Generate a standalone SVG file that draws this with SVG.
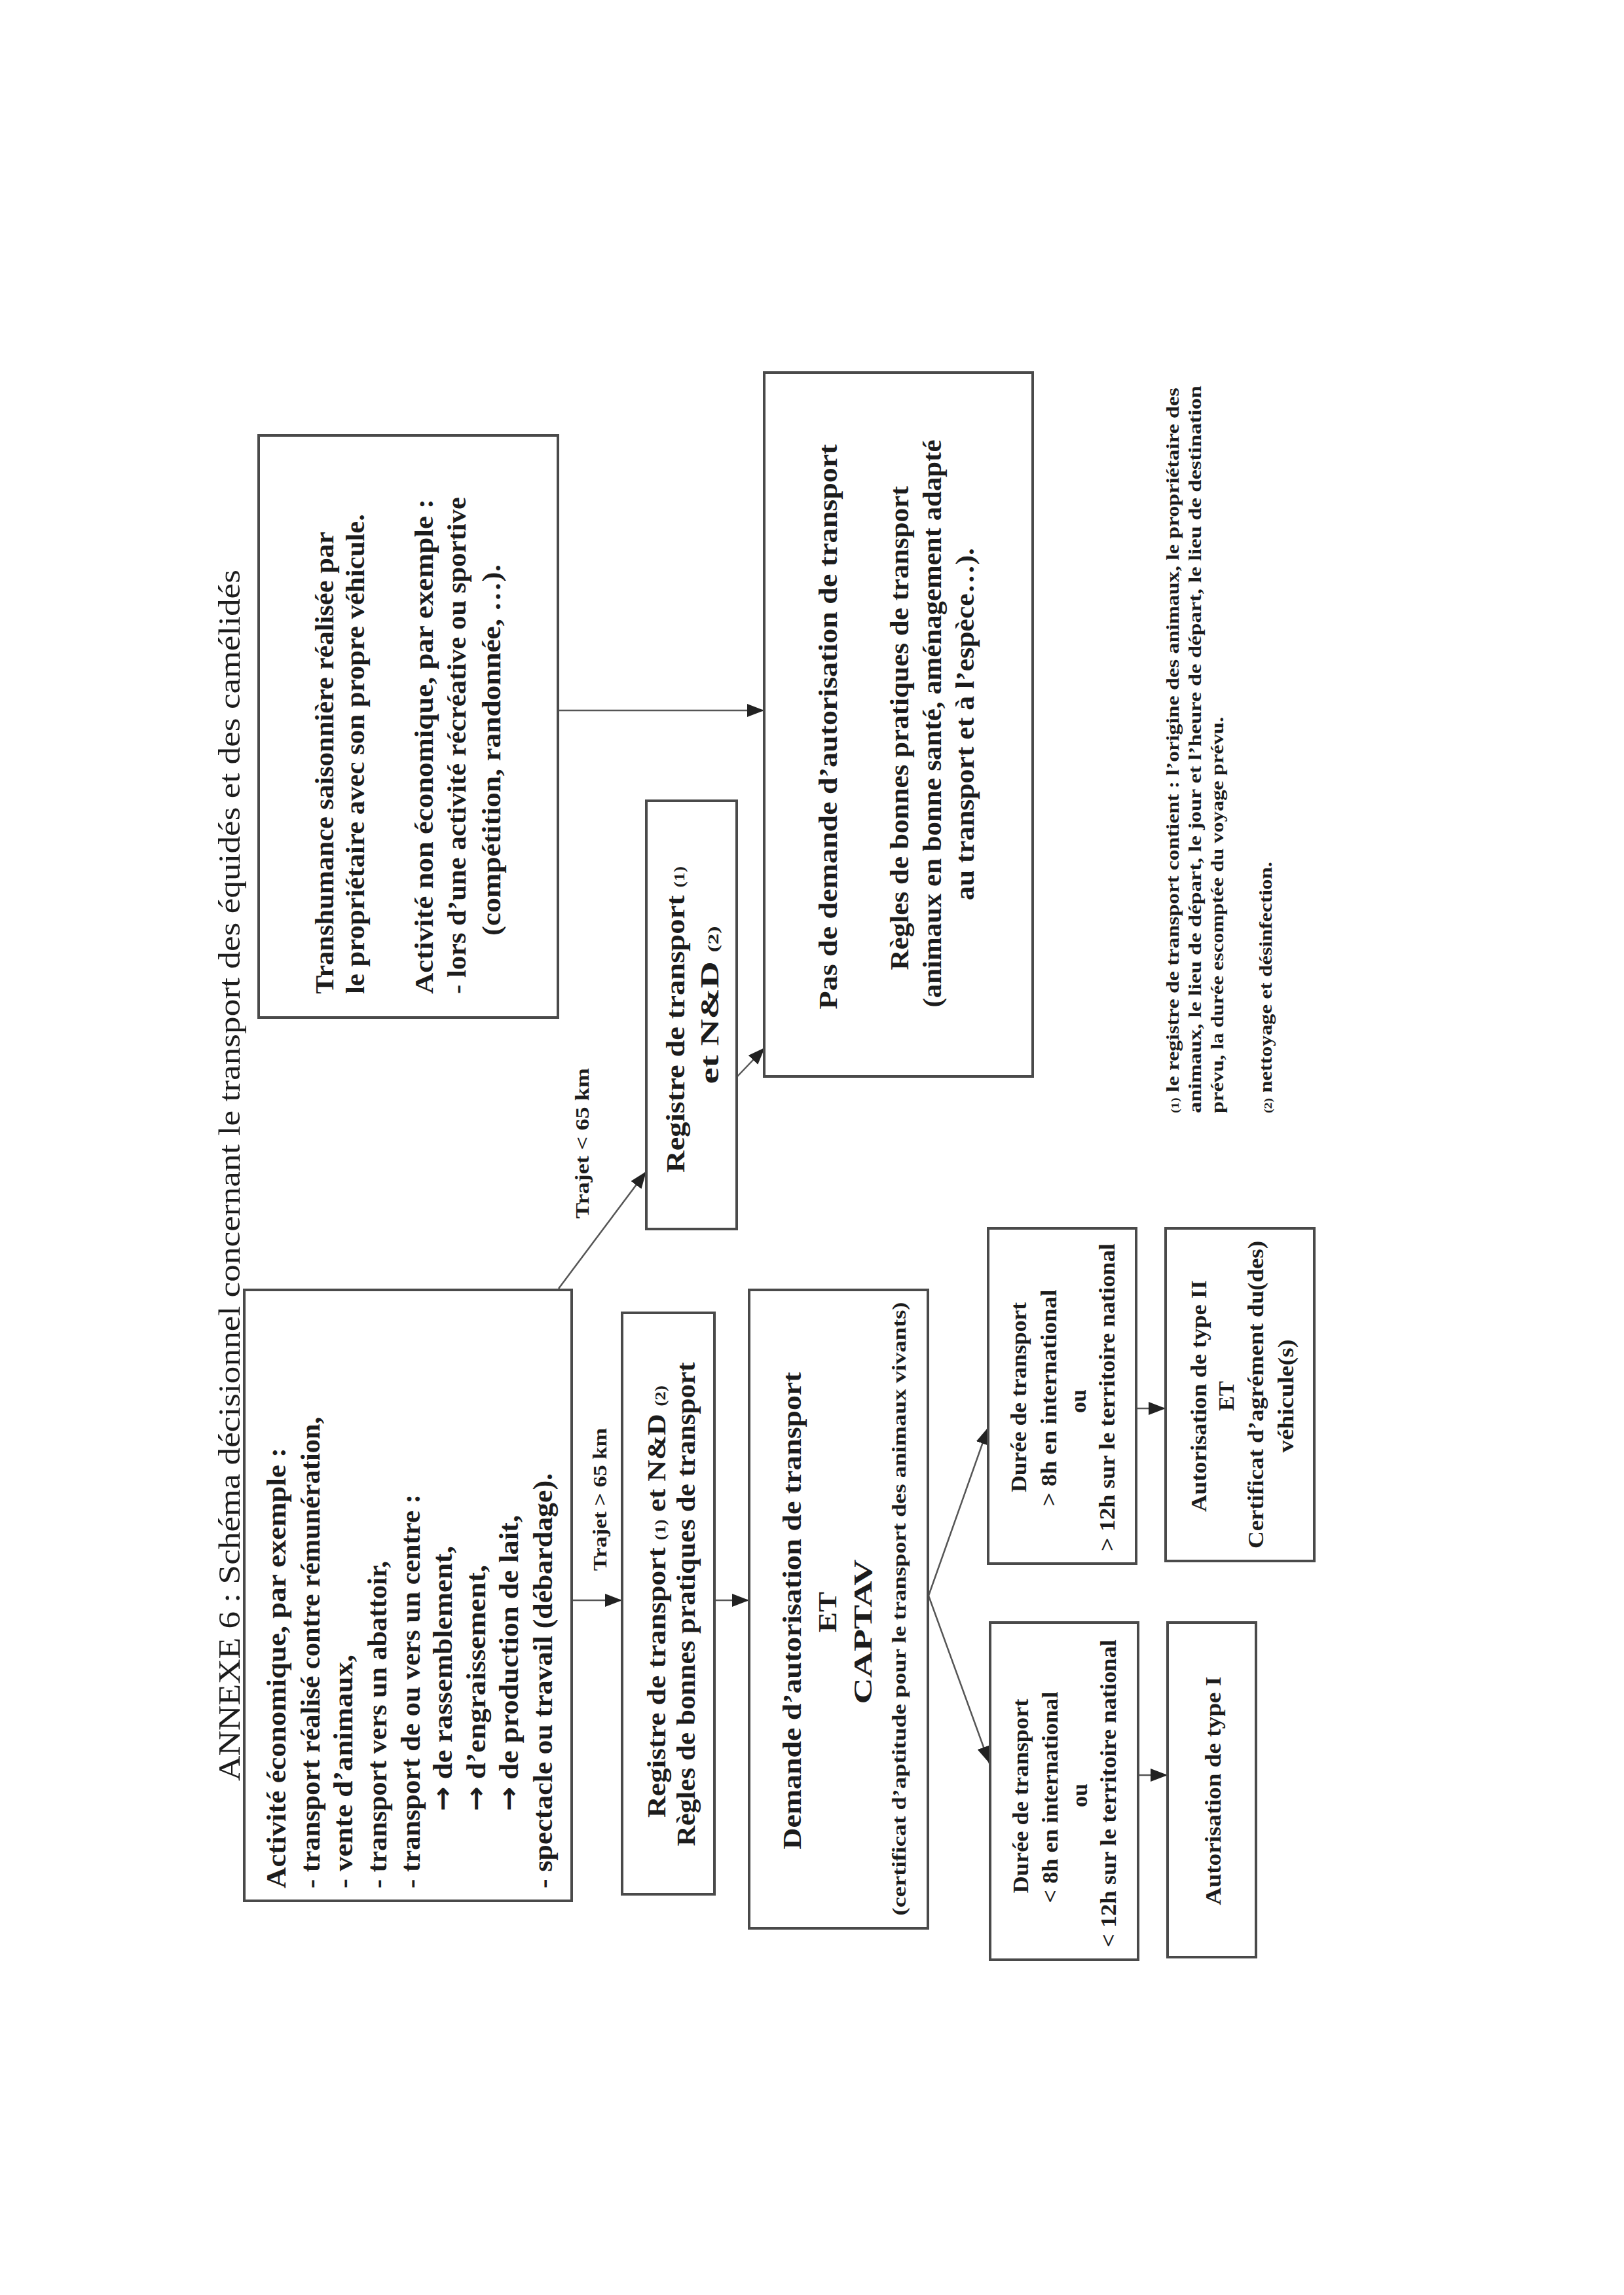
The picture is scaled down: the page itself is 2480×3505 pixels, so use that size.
<svg xmlns="http://www.w3.org/2000/svg" width="2480" height="3505" viewBox="0 0 2480 3505">
<style>
text{font-family:'Liberation Serif','Times New Roman',serif;font-weight:bold;fill:#1c1c1c}
.t{font-weight:normal}
.box{fill:#fff;stroke:#4a4a4a;stroke-width:4}
.con{stroke:#555;stroke-width:2.5;fill:none}
.sm{font-size:0.6em}
.ar{font-family:'DejaVu Sans',sans-serif;font-weight:bold}
</style>
<defs>
<marker id="ah" markerUnits="userSpaceOnUse" markerWidth="28" markerHeight="22" refX="26" refY="10" orient="auto">
<path d="M0,0 L26,10 L0,20 Z" fill="#222"/>
</marker>
</defs>
<rect width="2480" height="3505" fill="#fff"/>

<text class="t" font-size="46" transform="translate(366,2720) rotate(-90)" textLength="1850" lengthAdjust="spacingAndGlyphs">ANNEXE 6 : Schéma décisionnel concernant le transport des équidés et des camélidés</text>

<g id="connectors">
<line class="con" x1="852" y1="1085" x2="1167" y2="1085" marker-end="url(#ah)"/>
<line class="con" x1="853" y1="1968" x2="987" y2="1789" marker-end="url(#ah)"/>
<line class="con" x1="1125" y1="1645" x2="1168" y2="1600" marker-end="url(#ah)"/>
<line class="con" x1="873" y1="2444" x2="950" y2="2444" marker-end="url(#ah)"/>
<line class="con" x1="1091" y1="2444" x2="1144" y2="2444" marker-end="url(#ah)"/>
<line class="con" x1="1418" y1="2437" x2="1509" y2="2180" marker-end="url(#ah)"/>
<line class="con" x1="1418" y1="2437" x2="1511" y2="2693" marker-end="url(#ah)"/>
<line class="con" x1="1735" y1="2151" x2="1780" y2="2151" marker-end="url(#ah)"/>
<line class="con" x1="1738" y1="2711" x2="1783" y2="2711" marker-end="url(#ah)"/>
<text font-size="30" transform="translate(926,2290) rotate(-90)" text-anchor="middle" textLength="218" lengthAdjust="spacingAndGlyphs">Trajet &gt; 65 km</text>
<text font-size="30" transform="translate(899,1746) rotate(-90)" text-anchor="middle" textLength="230" lengthAdjust="spacingAndGlyphs">Trajet &lt; 65 km</text>
</g>

<g id="activite">
<rect class="box" x="373" y="1970" width="500" height="933"/>
<g font-size="42">
<text transform="translate(436,2884) rotate(-90)" textLength="673" lengthAdjust="spacingAndGlyphs">Activité économique, par exemple :</text>
<text transform="translate(488,2884) rotate(-90)" textLength="720" lengthAdjust="spacingAndGlyphs">- transport réalisé contre rémunération,</text>
<text transform="translate(538,2884) rotate(-90)" textLength="357" lengthAdjust="spacingAndGlyphs">- vente d’animaux,</text>
<text transform="translate(590,2884) rotate(-90)" textLength="500" lengthAdjust="spacingAndGlyphs">- transport vers un abattoir,</text>
<text transform="translate(641,2884) rotate(-90)" textLength="602" lengthAdjust="spacingAndGlyphs">- transport de ou vers un centre :</text>
<text transform="translate(690,2766) rotate(-90)" textLength="405" lengthAdjust="spacingAndGlyphs"><tspan class="ar">→</tspan> de rassemblement,</text>
<text transform="translate(741,2766) rotate(-90)" textLength="376" lengthAdjust="spacingAndGlyphs"><tspan class="ar">→</tspan> d’engraissement,</text>
<text transform="translate(791,2766) rotate(-90)" textLength="452" lengthAdjust="spacingAndGlyphs"><tspan class="ar">→</tspan> de production de lait,</text>
<text transform="translate(843,2884) rotate(-90)" textLength="634" lengthAdjust="spacingAndGlyphs">- spectacle ou travail (débardage).</text>
</g>
</g>

<g id="transhumance">
<rect class="box" x="395" y="665" width="457" height="889"/>
<g font-size="40">
<text transform="translate(509,1518) rotate(-90)" textLength="706" lengthAdjust="spacingAndGlyphs">Transhumance saisonnière réalisée par</text>
<text transform="translate(556,1518) rotate(-90)" textLength="733" lengthAdjust="spacingAndGlyphs">le propriétaire avec son propre véhicule.</text>
<text transform="translate(661,1518) rotate(-90)" textLength="756" lengthAdjust="spacingAndGlyphs">Activité non économique, par exemple :</text>
<text transform="translate(711,1518) rotate(-90)" textLength="759" lengthAdjust="spacingAndGlyphs">- lors d’une activité récréative ou sportive</text>
<text transform="translate(764,1429) rotate(-90)" textLength="567" lengthAdjust="spacingAndGlyphs">(compétition, randonnée, …).</text>
</g>
</g>

<g id="registre-long">
<rect class="box" x="950" y="2005" width="141" height="888"/>
<g font-size="40" text-anchor="middle">
<text transform="translate(1016,2446) rotate(-90)" textLength="660" lengthAdjust="spacingAndGlyphs">Registre de transport <tspan class="sm">(1)</tspan> et N&amp;D <tspan class="sm">(2)</tspan></text>
<text transform="translate(1061,2450) rotate(-90)" textLength="739" lengthAdjust="spacingAndGlyphs">Règles de bonnes pratiques de transport</text>
</g>
</g>

<g id="demande">
<rect class="box" x="1144" y="1970" width="273" height="975"/>
<g font-size="40" text-anchor="middle">
<text transform="translate(1223,2460) rotate(-90)" textLength="729" lengthAdjust="spacingAndGlyphs">Demande d’autorisation de transport</text>
<text transform="translate(1277,2462) rotate(-90)" textLength="62" lengthAdjust="spacingAndGlyphs">ET</text>
<text transform="translate(1331,2492) rotate(-90)" textLength="221" lengthAdjust="spacingAndGlyphs">CAPTAV</text>
<text font-size="30" transform="translate(1383,2457) rotate(-90)" textLength="937" lengthAdjust="spacingAndGlyphs">(certificat d’aptitude pour le transport des animaux vivants)</text>
</g>
</g>

<g id="registre-court">
<rect class="box" x="987" y="1223" width="138" height="654"/>
<g font-size="40" text-anchor="middle">
<text transform="translate(1045,1557) rotate(-90)" textLength="468" lengthAdjust="spacingAndGlyphs">Registre de transport <tspan class="sm">(1)</tspan></text>
<text transform="translate(1097,1535) rotate(-90)" textLength="241" lengthAdjust="spacingAndGlyphs">et N&amp;D <tspan class="sm">(2)</tspan></text>
</g>
</g>

<g id="pas-de-demande">
<rect class="box" x="1167" y="569" width="410" height="1075"/>
<g font-size="40" text-anchor="middle">
<text transform="translate(1278,1110) rotate(-90)" textLength="863" lengthAdjust="spacingAndGlyphs">Pas de demande d’autorisation de transport</text>
<text transform="translate(1387,1112) rotate(-90)" textLength="739" lengthAdjust="spacingAndGlyphs">Règles de bonnes pratiques de transport</text>
<text transform="translate(1437,1105) rotate(-90)" textLength="867" lengthAdjust="spacingAndGlyphs">(animaux en bonne santé, aménagement adapté</text>
<text transform="translate(1487,1106) rotate(-90)" textLength="538" lengthAdjust="spacingAndGlyphs">au transport et à l’espèce…).</text>
</g>
</g>

<g id="duree-plus">
<rect class="box" x="1509" y="1876" width="226" height="512"/>
<g font-size="34" text-anchor="middle">
<text transform="translate(1567,2134) rotate(-90)" textLength="290" lengthAdjust="spacingAndGlyphs">Durée de transport</text>
<text transform="translate(1613,2135) rotate(-90)" textLength="331" lengthAdjust="spacingAndGlyphs">&gt; 8h en international</text>
<text transform="translate(1658,2140) rotate(-90)">ou</text>
<text transform="translate(1702,2134) rotate(-90)" textLength="470" lengthAdjust="spacingAndGlyphs">&gt; 12h sur le territoire national</text>
</g>
</g>

<g id="duree-moins">
<rect class="box" x="1512" y="2478" width="226" height="515"/>
<g font-size="34" text-anchor="middle">
<text transform="translate(1570,2743) rotate(-90)" textLength="297" lengthAdjust="spacingAndGlyphs">Durée de transport</text>
<text transform="translate(1615,2745) rotate(-90)" textLength="323" lengthAdjust="spacingAndGlyphs">&lt; 8h en international</text>
<text transform="translate(1660,2742) rotate(-90)">ou</text>
<text transform="translate(1704,2739) rotate(-90)" textLength="470" lengthAdjust="spacingAndGlyphs">&lt; 12h sur le territoire national</text>
</g>
</g>

<g id="type-2">
<rect class="box" x="1780" y="1876" width="227" height="508"/>
<g font-size="34" text-anchor="middle">
<text transform="translate(1842,2132) rotate(-90)" textLength="354" lengthAdjust="spacingAndGlyphs">Autorisation de type II</text>
<text transform="translate(1884,2132) rotate(-90)">ET</text>
<text transform="translate(1929,2130) rotate(-90)" textLength="470" lengthAdjust="spacingAndGlyphs">Certificat d’agrément du(des)</text>
<text transform="translate(1975,2132) rotate(-90)" textLength="173" lengthAdjust="spacingAndGlyphs">véhicule(s)</text>
</g>
</g>

<g id="type-1">
<rect class="box" x="1783" y="2478" width="135" height="511"/>
<text font-size="34" text-anchor="middle" transform="translate(1864,2735) rotate(-90)" textLength="349" lengthAdjust="spacingAndGlyphs">Autorisation de type I</text>
</g>

<g id="notes" font-size="27">
<text transform="translate(1800,1700) rotate(-90)" textLength="1108" lengthAdjust="spacingAndGlyphs"><tspan class="sm">(1)</tspan> le registre de transport contient : l’origine des animaux, le propriétaire des</text>
<text transform="translate(1834,1700) rotate(-90)" textLength="1111" lengthAdjust="spacingAndGlyphs">animaux, le lieu de départ, le jour et l’heure de départ, le lieu de destination</text>
<text transform="translate(1868,1700) rotate(-90)" textLength="605" lengthAdjust="spacingAndGlyphs">prévu, la durée escomptée du voyage prévu.</text>
<text transform="translate(1942,1700) rotate(-90)" textLength="384" lengthAdjust="spacingAndGlyphs"><tspan class="sm">(2)</tspan> nettoyage et désinfection.</text>
</g>
</svg>
